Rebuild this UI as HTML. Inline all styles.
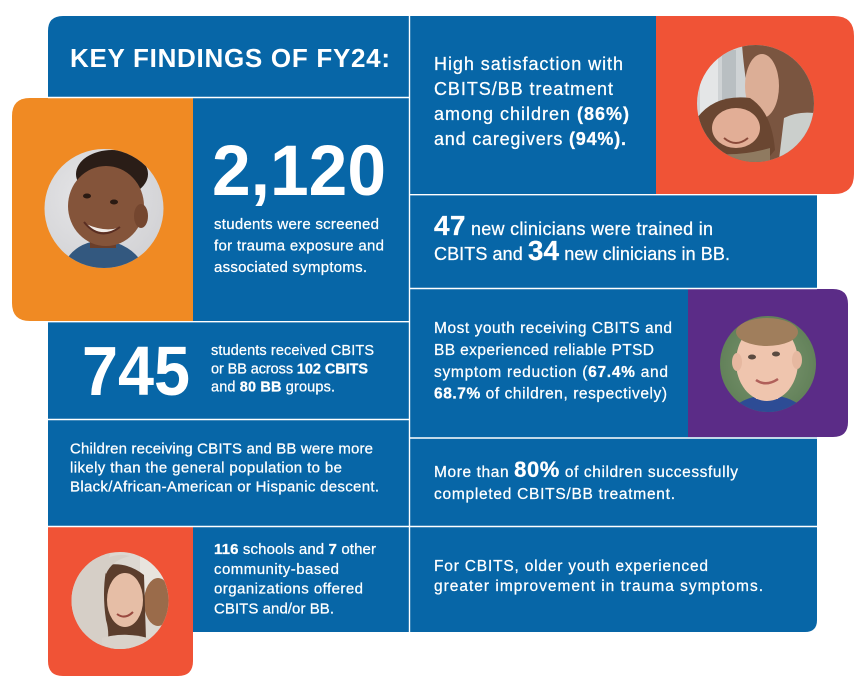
<!DOCTYPE html>
<html>
<head>
<meta charset="utf-8">
<style>
  html,body{margin:0;padding:0;background:#ffffff;}
  body{width:867px;height:685px;overflow:hidden;}
  svg{display:block;}
  text{font-family:"Liberation Sans", Arial, sans-serif; fill:#ffffff;}
  .b{stroke:#ffffff;stroke-width:0.25;}
</style>
</head>
<body>
<svg width="867" height="685" viewBox="0 0 867 685" xmlns="http://www.w3.org/2000/svg">
  <defs>
    <clipPath id="c1"><circle cx="104" cy="208.5" r="59.5"/></clipPath>
    <clipPath id="c2"><circle cx="755.5" cy="103.5" r="58.5"/></clipPath>
    <clipPath id="c3"><circle cx="768" cy="364" r="48"/></clipPath>
    <clipPath id="c4"><circle cx="120" cy="600.5" r="48.5"/></clipPath>
    <radialGradient id="g1" cx="0.4" cy="0.4" r="0.7">
      <stop offset="0" stop-color="#e6e6e8"/><stop offset="1" stop-color="#cfcfd2"/>
    </radialGradient>
    <radialGradient id="g3" cx="0.5" cy="0.5" r="0.6">
      <stop offset="0" stop-color="#7e9872"/><stop offset="1" stop-color="#5a7a52"/>
    </radialGradient>
  </defs>

  <!-- main blue panel -->
  <path d="M48,31 Q48,16 63,16 L817,16 L817,620 Q817,632 805,632 L48,632 Z" fill="#0766a7"/>

  <!-- colored boxes -->
  <path d="M30,98 L193,98 L193,321 L30,321 Q12,321 12,303 L12,116 Q12,98 30,98 Z" fill="#f08a23"/>
  <path d="M656,16 L834,16 Q854,16 854,36 L854,174 Q854,194 834,194 L656,194 Z" fill="#f05336"/>
  <path d="M688,289 L833,289 Q848,289 848,304 L848,422 Q848,437 833,437 L688,437 Z" fill="#5b2c87"/>
  <path d="M48,527 L193,527 L193,661 Q193,676 178,676 L63,676 Q48,676 48,661 Z" fill="#f05336"/>

  <!-- divider lines -->
  <g stroke="#ffffff" stroke-width="1.4" fill="none">
    <line x1="409.5" y1="16" x2="409.5" y2="632"/>
    <line x1="48" y1="97.5" x2="409" y2="97.5"/>
    <line x1="48" y1="321.7" x2="409" y2="321.7"/>
    <line x1="48" y1="419.5" x2="409" y2="419.5"/>
    <line x1="48" y1="526.5" x2="817" y2="526.5"/>
    <line x1="409" y1="194.7" x2="817" y2="194.7"/>
    <line x1="409" y1="288.5" x2="817" y2="288.5"/>
    <line x1="409" y1="438" x2="817" y2="438"/>
  </g>

  <!-- photo 1: boy -->
  <g clip-path="url(#c1)">
    <rect x="40" y="145" width="130" height="130" fill="url(#g1)"/>
    <path d="M62,270 Q70,243 102,240 Q134,243 146,270 Z" fill="#33587f"/>
    <rect x="90" y="230" width="26" height="18" fill="#6a3e2a"/>
    <ellipse cx="112" cy="174" rx="36" ry="24" fill="#2a1d17"/>
    <ellipse cx="106" cy="206" rx="38" ry="40" fill="#84543a"/>
    <ellipse cx="141" cy="216" rx="7" ry="12" fill="#74462f"/>
    <ellipse cx="87" cy="196" rx="4" ry="2.5" fill="#2a1a12"/>
    <ellipse cx="114" cy="202" rx="4" ry="2.5" fill="#2a1a12"/>
    <path d="M86,224 Q100,238 118,228 Q104,232 86,224 Z" fill="#f1ebe6"/>
    <path d="M84,222 Q100,242 120,227" stroke="#5a2e22" stroke-width="2" fill="none"/>
  </g>

  <!-- photo 2: mother and daughter -->
  <g clip-path="url(#c2)">
    <rect x="692" y="40" width="128" height="128" fill="#cfd3d5"/>
    <rect x="700" y="58" width="18" height="62" fill="#e4e6e7"/>
    <rect x="722" y="50" width="14" height="70" fill="#b9bfc2"/>
    <path d="M742,45 Q770,38 800,52 Q818,80 818,130 L818,168 L770,168 Q748,120 742,45 Z" fill="#7a5540"/>
    <path d="M784,118 Q800,110 820,114 L820,168 L778,168 Z" fill="#cbcfcc"/>
    <ellipse cx="762" cy="86" rx="17" ry="32" fill="#dcae96"/>
    <path d="M697,118 Q715,94 750,98 Q772,112 775,150 L760,168 L697,168 Z" fill="#6a4631"/>
    <ellipse cx="736" cy="128" rx="24" ry="20" fill="#e2ae96"/>
    <path d="M724,138 Q736,148 748,138" stroke="#8a4a3a" stroke-width="2" fill="none"/>
    <path d="M705,152 Q735,158 770,148 L770,168 L697,168 Z" fill="#8f7a60"/>
  </g>

  <!-- photo 3: boy on purple -->
  <g clip-path="url(#c3)">
    <rect x="716" y="312" width="105" height="105" fill="url(#g3)"/>
    <path d="M728,414 Q740,396 768,395 Q796,396 808,414 Z" fill="#2d4c95"/>
    <rect x="756" y="385" width="22" height="14" fill="#e5b69e"/>
    <ellipse cx="767" cy="362" rx="31" ry="39" fill="#efc5ae"/>
    <ellipse cx="767" cy="332" rx="31" ry="14" fill="#a07e5c"/>
    <ellipse cx="737" cy="362" rx="5" ry="9" fill="#e6b8a0"/>
    <ellipse cx="797" cy="360" rx="5" ry="9" fill="#e6b8a0"/>
    <ellipse cx="752" cy="357" rx="4" ry="2.5" fill="#5a4a40"/>
    <ellipse cx="776" cy="354" rx="4" ry="2.5" fill="#5a4a40"/>
    <path d="M756,380 Q766,387 778,379" stroke="#b0605a" stroke-width="2.5" fill="none"/>
  </g>

  <!-- photo 4: girl -->
  <g clip-path="url(#c4)">
    <rect x="68" y="549" width="105" height="105" fill="#ddd8d1"/>
    <rect x="140" y="552" width="30" height="40" fill="#e8e4de"/>
    <ellipse cx="158" cy="602" rx="14" ry="24" fill="#9a6b4a"/>
    <path d="M102,566 Q125,560 144,575 L146,640 L102,650 Z" fill="#5b3d2c"/>
    <ellipse cx="125" cy="600" rx="18" ry="27" fill="#e6bea6"/>
    <path d="M117,614 Q125,620 133,612" stroke="#9a4a40" stroke-width="2" fill="none"/>
    <path d="M68,549 L112,549 Q100,580 106,620 Q112,640 102,660 L68,660 Z" fill="#d6cfc7"/>
    <path d="M102,562 Q114,552 130,556 Q112,560 106,574 Z" fill="#d6cfc7"/>
    <path d="M102,638 Q130,630 160,642 L160,660 L102,660 Z" fill="#d9d2ca"/>
  </g>

  <!-- header -->
  <text x="70" y="67" font-size="26" font-weight="bold" textLength="320" lengthAdjust="spacing">KEY FINDINGS OF FY24:</text>

  <!-- 2,120 -->
  <text x="212" y="195" font-size="71" font-weight="bold" textLength="174" lengthAdjust="spacingAndGlyphs">2,120</text>
  <g font-size="15" class="b">
    <text x="214" y="229" textLength="165" lengthAdjust="spacing">students were screened</text>
    <text x="214" y="250.5" textLength="170" lengthAdjust="spacing">for trauma exposure and</text>
    <text x="214" y="272" textLength="153" lengthAdjust="spacing">associated symptoms.</text>
  </g>

  <!-- top right -->
  <g font-size="18" class="b">
    <text x="434" y="70" textLength="189" lengthAdjust="spacing">High satisfaction with</text>
    <text x="434" y="95" textLength="179" lengthAdjust="spacing">CBITS/BB treatment</text>
    <text x="434" y="120" textLength="195" lengthAdjust="spacing">among children <tspan font-weight="bold">(86%)</tspan></text>
    <text x="434" y="145" textLength="192" lengthAdjust="spacing">and caregivers <tspan font-weight="bold">(94%).</tspan></text>
  </g>

  <!-- 47 / 34 -->
  <g font-size="18" class="b">
    <text x="434" y="235" textLength="279" lengthAdjust="spacing"><tspan font-size="28" font-weight="bold">47</tspan> new clinicians were trained in</text>
    <text x="434" y="260" textLength="296" lengthAdjust="spacing">CBITS and <tspan font-size="28" font-weight="bold">34</tspan> new clinicians in BB.</text>
  </g>

  <!-- purple row -->
  <g font-size="15.5" class="b">
    <text x="434" y="333" textLength="238" lengthAdjust="spacing">Most youth receiving CBITS and</text>
    <text x="434" y="355" textLength="220" lengthAdjust="spacing">BB experienced reliable PTSD</text>
    <text x="434" y="377" textLength="234" lengthAdjust="spacing">symptom reduction (<tspan font-weight="bold">67.4%</tspan> and</text>
    <text x="434" y="398.5" textLength="233" lengthAdjust="spacing"><tspan font-weight="bold">68.7%</tspan> of children, respectively)</text>
  </g>

  <!-- 80% -->
  <g font-size="15.5" class="b">
    <text x="434" y="477" textLength="304" lengthAdjust="spacing">More than <tspan font-size="22" font-weight="bold">80%</tspan> of children successfully</text>
    <text x="434" y="499" textLength="241" lengthAdjust="spacing">completed CBITS/BB treatment.</text>
  </g>

  <!-- bottom right -->
  <g font-size="15.5" class="b">
    <text x="434" y="571" textLength="274" lengthAdjust="spacing">For CBITS, older youth experienced</text>
    <text x="434" y="591" textLength="329" lengthAdjust="spacing">greater improvement in trauma symptoms.</text>
  </g>

  <!-- 745 -->
  <text x="82" y="395" font-size="70" font-weight="bold" textLength="108" lengthAdjust="spacingAndGlyphs">745</text>
  <g font-size="14.5" class="b">
    <text x="211" y="355" textLength="163" lengthAdjust="spacing">students received CBITS</text>
    <text x="211" y="373.3" textLength="157" lengthAdjust="spacing">or BB across <tspan font-weight="bold">102 CBITS</tspan></text>
    <text x="211" y="391.7" textLength="124" lengthAdjust="spacing">and <tspan font-weight="bold">80 BB</tspan> groups.</text>
  </g>

  <!-- children demographics -->
  <g font-size="15" class="b">
    <text x="70" y="453.3" textLength="303" lengthAdjust="spacing">Children receiving CBITS and BB were more</text>
    <text x="70" y="472.7" textLength="272" lengthAdjust="spacing">likely than the general population to be</text>
    <text x="70" y="491.7" textLength="309" lengthAdjust="spacing">Black/African-American or Hispanic descent.</text>
  </g>

  <!-- bottom left -->
  <g font-size="15" class="b">
    <text x="214" y="554" textLength="162" lengthAdjust="spacing"><tspan font-weight="bold">116</tspan> schools and <tspan font-weight="bold">7</tspan> other</text>
    <text x="214" y="574" textLength="125" lengthAdjust="spacing">community-based</text>
    <text x="214" y="593.3" textLength="149" lengthAdjust="spacing">organizations offered</text>
    <text x="214" y="613.3" textLength="120" lengthAdjust="spacing">CBITS and/or BB.</text>
  </g>
</svg>
</body>
</html>
